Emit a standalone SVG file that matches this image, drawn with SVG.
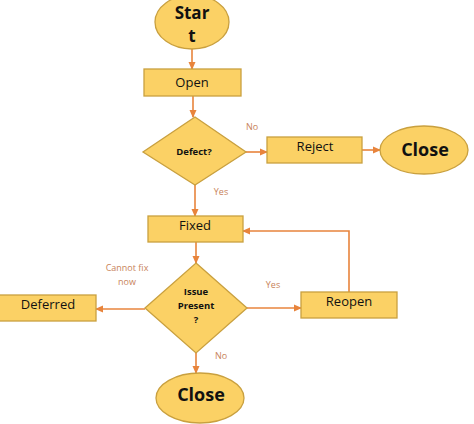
<svg xmlns="http://www.w3.org/2000/svg" width="474" height="424" viewBox="0 0 474 424">
<defs>
<marker id="ah" markerWidth="8" markerHeight="8" refX="7" refY="4" orient="auto" markerUnits="userSpaceOnUse">
<path d="M0,0.5 L8,4 L0,7.5 Z" fill="#E8843C"/>
</marker>
<style>
.n{fill:#FBD165;stroke:#C9A03F;stroke-width:1.3}
.t{font-family:"Open Sans","Liberation Sans",sans-serif;fill:#111;text-anchor:middle}
.b{font-weight:bold}
.c{fill:none;stroke:#E8843C;stroke-width:1.6;marker-end:url(#ah)}
.l{font-family:"Open Sans","Liberation Sans",sans-serif;fill:#C8835A;font-size:9px;text-anchor:middle}
</style>
</defs>
<rect width="474" height="424" fill="#fff"/>
<g id="connectors">
<line class="c" x1="192" y1="49" x2="192" y2="69"/>
<line class="c" x1="193" y1="96" x2="193" y2="117"/>
<line class="c" x1="246" y1="152" x2="267" y2="152"/>
<line class="c" x1="362" y1="150" x2="380" y2="150"/>
<line class="c" x1="195" y1="185" x2="195" y2="216"/>
<line class="c" x1="196" y1="242" x2="196" y2="263"/>
<line class="c" x1="145" y1="309" x2="96" y2="309"/>
<line class="c" x1="247" y1="308" x2="301" y2="308"/>
<polyline class="c" points="349,292 349,231 243,231"/>
<line class="c" x1="196" y1="353" x2="196" y2="373"/>
<text class="l" x="252" y="130">No</text>
<text class="l" x="221" y="195">Yes</text>
<text class="l" x="127" y="271">Cannot fix</text>
<text class="l" x="127" y="285">now</text>
<text class="l" x="273" y="288">Yes</text>
<text class="l" x="221" y="359">No</text>
</g>
<g id="start">
<ellipse class="n" cx="192" cy="22" rx="37" ry="27"/>
<text class="t b" x="192" y="19" font-size="17">Star</text>
<text class="t b" x="192" y="42" font-size="17">t</text>
</g>
<g id="open">
<rect class="n" x="144" y="69" width="97" height="27"/>
<text class="t" x="192" y="87" font-size="13">Open</text>
</g>
<g id="defect">
<polygon class="n" points="195,117 246,152 195,185 143,152"/>
<text class="t b" x="194" y="155" font-size="9.5">Defect?</text>
</g>
<g id="reject">
<rect class="n" x="267" y="137" width="95" height="26"/>
<text class="t" x="315" y="151" font-size="13">Reject</text>
</g>
<g id="close1">
<ellipse class="n" cx="424" cy="150" rx="44" ry="24"/>
<text class="t b" x="425" y="156" font-size="18">Close</text>
</g>
<g id="fixed">
<rect class="n" x="148" y="216" width="95" height="26"/>
<text class="t" x="195" y="230" font-size="13">Fixed</text>
</g>
<g id="issue">
<polygon class="n" points="196,263 247,308 196,353 145,308"/>
<text class="t b" x="196" y="295" font-size="9.5">Issue</text>
<text class="t b" x="196" y="309" font-size="9.5">Present</text>
<text class="t b" x="196" y="323" font-size="9.5">?</text>
</g>
<g id="deferred">
<rect class="n" x="-1" y="295" width="97" height="26"/>
<text class="t" x="48" y="309" font-size="13">Deferred</text>
</g>
<g id="reopen">
<rect class="n" x="301" y="292" width="96" height="26"/>
<text class="t" x="349" y="306" font-size="13">Reopen</text>
</g>
<g id="close2">
<ellipse class="n" cx="200" cy="398" rx="44" ry="25"/>
<text class="t b" x="201" y="401" font-size="18">Close</text>
</g>
</svg>
